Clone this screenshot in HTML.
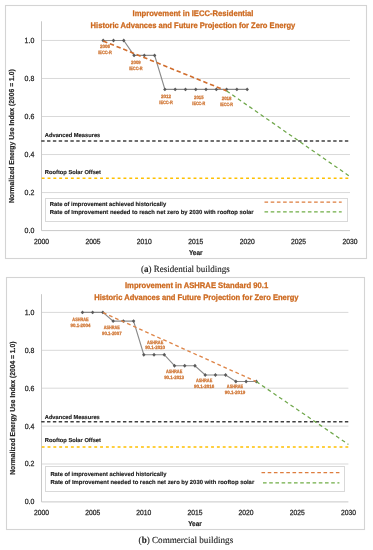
<!DOCTYPE html>
<html><head><meta charset="utf-8"><style>
html,body{margin:0;padding:0;background:#fff;width:373px;height:550px;overflow:hidden}
svg{display:block;will-change:transform;text-rendering:geometricPrecision;filter:blur(0.3px)}
</style></head><body>
<svg width="373" height="550" viewBox="0 0 373 550">
<rect width="373" height="550" fill="#fff"/>
<rect x="5.5" y="5.5" width="361" height="253" fill="none" stroke="#d4d4d4" stroke-width="1.1"/>
<line x1="41.50" y1="192.57" x2="350.00" y2="192.57" stroke="#d9d9d9" stroke-width="1"/>
<line x1="41.50" y1="154.54" x2="350.00" y2="154.54" stroke="#d9d9d9" stroke-width="1"/>
<line x1="41.50" y1="116.51" x2="350.00" y2="116.51" stroke="#d9d9d9" stroke-width="1"/>
<line x1="41.50" y1="78.48" x2="350.00" y2="78.48" stroke="#d9d9d9" stroke-width="1"/>
<line x1="41.50" y1="40.45" x2="350.00" y2="40.45" stroke="#d9d9d9" stroke-width="1"/>
<line x1="41.50" y1="230.60" x2="350.00" y2="230.60" stroke="#c8c8c8" stroke-width="1"/>
<line x1="41.50" y1="21.30" x2="41.50" y2="230.60" stroke="#c8c8c8" stroke-width="1"/>
<text x="34.30" y="233.05" font-size="7.5" text-anchor="end" fill="#262626" font-family="'Liberation Sans', sans-serif" textLength="9.70" lengthAdjust="spacingAndGlyphs" stroke="#262626" stroke-width="0.25">0.0</text>
<text x="34.30" y="195.02" font-size="7.5" text-anchor="end" fill="#262626" font-family="'Liberation Sans', sans-serif" textLength="9.70" lengthAdjust="spacingAndGlyphs" stroke="#262626" stroke-width="0.25">0.2</text>
<text x="34.30" y="156.99" font-size="7.5" text-anchor="end" fill="#262626" font-family="'Liberation Sans', sans-serif" textLength="9.70" lengthAdjust="spacingAndGlyphs" stroke="#262626" stroke-width="0.25">0.4</text>
<text x="34.30" y="118.96" font-size="7.5" text-anchor="end" fill="#262626" font-family="'Liberation Sans', sans-serif" textLength="9.70" lengthAdjust="spacingAndGlyphs" stroke="#262626" stroke-width="0.25">0.6</text>
<text x="34.30" y="80.93" font-size="7.5" text-anchor="end" fill="#262626" font-family="'Liberation Sans', sans-serif" textLength="9.70" lengthAdjust="spacingAndGlyphs" stroke="#262626" stroke-width="0.25">0.8</text>
<text x="34.30" y="42.90" font-size="7.5" text-anchor="end" fill="#262626" font-family="'Liberation Sans', sans-serif" textLength="9.70" lengthAdjust="spacingAndGlyphs" stroke="#262626" stroke-width="0.25">1.0</text>
<text x="41.50" y="243.80" font-size="7.4" text-anchor="middle" fill="#262626" font-family="'Liberation Sans', sans-serif" textLength="15.00" lengthAdjust="spacingAndGlyphs" stroke="#262626" stroke-width="0.25">2000</text>
<text x="92.92" y="243.80" font-size="7.4" text-anchor="middle" fill="#262626" font-family="'Liberation Sans', sans-serif" textLength="15.00" lengthAdjust="spacingAndGlyphs" stroke="#262626" stroke-width="0.25">2005</text>
<text x="144.33" y="243.80" font-size="7.4" text-anchor="middle" fill="#262626" font-family="'Liberation Sans', sans-serif" textLength="15.00" lengthAdjust="spacingAndGlyphs" stroke="#262626" stroke-width="0.25">2010</text>
<text x="195.75" y="243.80" font-size="7.4" text-anchor="middle" fill="#262626" font-family="'Liberation Sans', sans-serif" textLength="15.00" lengthAdjust="spacingAndGlyphs" stroke="#262626" stroke-width="0.25">2015</text>
<text x="247.17" y="243.80" font-size="7.4" text-anchor="middle" fill="#262626" font-family="'Liberation Sans', sans-serif" textLength="15.00" lengthAdjust="spacingAndGlyphs" stroke="#262626" stroke-width="0.25">2020</text>
<text x="298.58" y="243.80" font-size="7.4" text-anchor="middle" fill="#262626" font-family="'Liberation Sans', sans-serif" textLength="15.00" lengthAdjust="spacingAndGlyphs" stroke="#262626" stroke-width="0.25">2025</text>
<text x="350.00" y="243.80" font-size="7.4" text-anchor="middle" fill="#262626" font-family="'Liberation Sans', sans-serif" textLength="15.00" lengthAdjust="spacingAndGlyphs" stroke="#262626" stroke-width="0.25">2030</text>
<text x="195.70" y="254.50" font-size="7.1" text-anchor="middle" font-weight="bold" fill="#1f1f1f" font-family="'Liberation Sans', sans-serif" textLength="13.60" lengthAdjust="spacingAndGlyphs" stroke="#1f1f1f" stroke-width="0.22">Year</text>
<text x="0" y="0" font-size="7.2" font-weight="bold" fill="#262626" stroke="#262626" stroke-width="0.2" font-family="'Liberation Sans', sans-serif" text-anchor="middle" textLength="133.8" lengthAdjust="spacingAndGlyphs" transform="translate(13.60,136.20) rotate(-90)">Normalized Energy Use Index (2006 = 1.0)</text>
<text x="132.60" y="16.40" font-size="8.0" text-anchor="start" font-weight="bold" fill="#cd6a20" font-family="'Liberation Sans', sans-serif" textLength="120.80" lengthAdjust="spacingAndGlyphs" stroke="#cd6a20" stroke-width="0.28">Improvement in IECC-Residential</text>
<text x="90.60" y="27.60" font-size="8.0" text-anchor="start" font-weight="bold" fill="#cd6a20" font-family="'Liberation Sans', sans-serif" textLength="204.70" lengthAdjust="spacingAndGlyphs" stroke="#cd6a20" stroke-width="0.28">Historic Advances and Future Projection for Zero Energy</text>
<line x1="41.20" y1="140.90" x2="350.00" y2="140.90" stroke="#404040" stroke-width="1.5" stroke-dasharray="3.4 2.44"/>
<text x="44.80" y="136.60" font-size="5.75" text-anchor="start" font-weight="bold" fill="#1a1a1a" font-family="'Liberation Sans', sans-serif" textLength="55.50" lengthAdjust="spacingAndGlyphs" stroke="#1a1a1a" stroke-width="0.14">Advanced Measures</text>
<line x1="41.70" y1="178.30" x2="350.00" y2="178.30" stroke="#ffc000" stroke-width="1.4" stroke-dasharray="2.9 2.94"/>
<text x="44.80" y="174.10" font-size="5.75" text-anchor="start" font-weight="bold" fill="#1a1a1a" font-family="'Liberation Sans', sans-serif" textLength="56.20" lengthAdjust="spacingAndGlyphs" stroke="#1a1a1a" stroke-width="0.14">Rooftop Solar Offset</text>
<rect x="45.5" y="198.5" width="302" height="23" fill="#fff" stroke="#d9d9d9" stroke-width="1"/>
<text x="49.80" y="205.50" font-size="5.85" text-anchor="start" font-weight="bold" fill="#1a1a1a" font-family="'Liberation Sans', sans-serif" textLength="116.40" lengthAdjust="spacingAndGlyphs" stroke="#1a1a1a" stroke-width="0.14">Rate of improvement achieved historically</text>
<text x="49.80" y="213.50" font-size="5.85" text-anchor="start" font-weight="bold" fill="#1a1a1a" font-family="'Liberation Sans', sans-serif" textLength="203.80" lengthAdjust="spacingAndGlyphs" stroke="#1a1a1a" stroke-width="0.14">Rate of Improvement needed to reach net zero by 2030 with rooftop solar</text>
<line x1="264.50" y1="202.20" x2="341.70" y2="202.20" stroke="#dd7d3e" stroke-width="1.3" stroke-dasharray="3.6 2.6"/>
<line x1="264.50" y1="211.90" x2="341.70" y2="211.90" stroke="#70ad47" stroke-width="1.3" stroke-dasharray="3.6 2.6"/>
<path d="M103.20,40.45 L113.48,40.45 L123.77,40.45 L134.05,55.40 L144.33,55.40 L154.62,55.40 L164.90,89.40 L175.18,89.40 L185.47,89.40 L195.75,89.40 L206.03,89.40 L216.32,89.40 L226.60,89.40 L236.88,89.40 L247.17,89.40" fill="none" stroke="#8a8a8a" stroke-width="1.15"/>
<path d="M103.20,38.50 L104.95,40.45 L103.20,42.40 L101.45,40.45 Z" fill="#5a5a5a"/>
<path d="M113.48,38.50 L115.23,40.45 L113.48,42.40 L111.73,40.45 Z" fill="#5a5a5a"/>
<path d="M123.77,38.50 L125.52,40.45 L123.77,42.40 L122.02,40.45 Z" fill="#5a5a5a"/>
<path d="M134.05,53.45 L135.80,55.40 L134.05,57.35 L132.30,55.40 Z" fill="#5a5a5a"/>
<path d="M144.33,53.45 L146.08,55.40 L144.33,57.35 L142.58,55.40 Z" fill="#5a5a5a"/>
<path d="M154.62,53.45 L156.37,55.40 L154.62,57.35 L152.87,55.40 Z" fill="#5a5a5a"/>
<path d="M164.90,87.45 L166.65,89.40 L164.90,91.35 L163.15,89.40 Z" fill="#5a5a5a"/>
<path d="M175.18,87.45 L176.93,89.40 L175.18,91.35 L173.43,89.40 Z" fill="#5a5a5a"/>
<path d="M185.47,87.45 L187.22,89.40 L185.47,91.35 L183.72,89.40 Z" fill="#5a5a5a"/>
<path d="M195.75,87.45 L197.50,89.40 L195.75,91.35 L194.00,89.40 Z" fill="#5a5a5a"/>
<path d="M206.03,87.45 L207.78,89.40 L206.03,91.35 L204.28,89.40 Z" fill="#5a5a5a"/>
<path d="M216.32,87.45 L218.07,89.40 L216.32,91.35 L214.57,89.40 Z" fill="#5a5a5a"/>
<path d="M226.60,87.45 L228.35,89.40 L226.60,91.35 L224.85,89.40 Z" fill="#5a5a5a"/>
<path d="M236.88,87.45 L238.63,89.40 L236.88,91.35 L235.13,89.40 Z" fill="#5a5a5a"/>
<path d="M247.17,87.45 L248.92,89.40 L247.17,91.35 L245.42,89.40 Z" fill="#5a5a5a"/>
<line x1="103.20" y1="41.00" x2="226.60" y2="90.90" stroke="#d06d2d" stroke-width="1.6" stroke-dasharray="4.4 2.8"/>
<line x1="226.60" y1="90.90" x2="349.50" y2="176.20" stroke="#6fa74a" stroke-width="1.25" stroke-dasharray="3.8 3.1"/>
<text x="105.00" y="48.40" font-size="4.8" text-anchor="middle" font-weight="bold" fill="#d07634" font-family="'Liberation Sans', sans-serif" textLength="9.90" lengthAdjust="spacingAndGlyphs" stroke="#d07634" stroke-width="0.28">2006</text>
<text x="105.00" y="54.10" font-size="4.8" text-anchor="middle" font-weight="bold" fill="#d07634" font-family="'Liberation Sans', sans-serif" textLength="13.50" lengthAdjust="spacingAndGlyphs" stroke="#d07634" stroke-width="0.28">IECC-R</text>
<text x="135.90" y="63.90" font-size="4.8" text-anchor="middle" font-weight="bold" fill="#d07634" font-family="'Liberation Sans', sans-serif" textLength="9.60" lengthAdjust="spacingAndGlyphs" stroke="#d07634" stroke-width="0.28">2009</text>
<text x="135.90" y="69.80" font-size="4.8" text-anchor="middle" font-weight="bold" fill="#d07634" font-family="'Liberation Sans', sans-serif" textLength="13.40" lengthAdjust="spacingAndGlyphs" stroke="#d07634" stroke-width="0.28">IECC-R</text>
<text x="166.00" y="97.90" font-size="4.8" text-anchor="middle" font-weight="bold" fill="#d07634" font-family="'Liberation Sans', sans-serif" textLength="10.10" lengthAdjust="spacingAndGlyphs" stroke="#d07634" stroke-width="0.28">2012</text>
<text x="166.00" y="103.70" font-size="4.8" text-anchor="middle" font-weight="bold" fill="#d07634" font-family="'Liberation Sans', sans-serif" textLength="13.40" lengthAdjust="spacingAndGlyphs" stroke="#d07634" stroke-width="0.28">IECC-R</text>
<text x="198.80" y="98.70" font-size="4.8" text-anchor="middle" font-weight="bold" fill="#d07634" font-family="'Liberation Sans', sans-serif" textLength="9.40" lengthAdjust="spacingAndGlyphs" stroke="#d07634" stroke-width="0.28">2015</text>
<text x="198.80" y="104.60" font-size="4.8" text-anchor="middle" font-weight="bold" fill="#d07634" font-family="'Liberation Sans', sans-serif" textLength="12.90" lengthAdjust="spacingAndGlyphs" stroke="#d07634" stroke-width="0.28">IECC-R</text>
<text x="226.60" y="99.70" font-size="4.8" text-anchor="middle" font-weight="bold" fill="#d07634" font-family="'Liberation Sans', sans-serif" textLength="9.70" lengthAdjust="spacingAndGlyphs" stroke="#d07634" stroke-width="0.28">2018</text>
<text x="226.60" y="105.60" font-size="4.8" text-anchor="middle" font-weight="bold" fill="#d07634" font-family="'Liberation Sans', sans-serif" textLength="12.80" lengthAdjust="spacingAndGlyphs" stroke="#d07634" stroke-width="0.28">IECC-R</text>
<text x="141.00" y="271.70" font-size="9.4" fill="#1a1a1a" stroke="#1a1a1a" stroke-width="0.12" font-family="'Liberation Serif', serif" textLength="88.80" lengthAdjust="spacingAndGlyphs">(<tspan font-weight="bold">a</tspan>) Residential buildings</text>
<rect x="6.5" y="277.5" width="358" height="252" fill="none" stroke="#d4d4d4" stroke-width="1.1"/>
<line x1="41.50" y1="464.00" x2="348.40" y2="464.00" stroke="#d9d9d9" stroke-width="1"/>
<line x1="41.50" y1="426.10" x2="348.40" y2="426.10" stroke="#d9d9d9" stroke-width="1"/>
<line x1="41.50" y1="388.20" x2="348.40" y2="388.20" stroke="#d9d9d9" stroke-width="1"/>
<line x1="41.50" y1="350.30" x2="348.40" y2="350.30" stroke="#d9d9d9" stroke-width="1"/>
<line x1="41.50" y1="312.40" x2="348.40" y2="312.40" stroke="#d9d9d9" stroke-width="1"/>
<line x1="41.50" y1="501.90" x2="348.40" y2="501.90" stroke="#c8c8c8" stroke-width="1"/>
<line x1="41.50" y1="294.20" x2="41.50" y2="501.90" stroke="#c8c8c8" stroke-width="1"/>
<text x="34.40" y="504.35" font-size="7.5" text-anchor="end" fill="#262626" font-family="'Liberation Sans', sans-serif" textLength="9.70" lengthAdjust="spacingAndGlyphs" stroke="#262626" stroke-width="0.25">0.0</text>
<text x="34.40" y="466.45" font-size="7.5" text-anchor="end" fill="#262626" font-family="'Liberation Sans', sans-serif" textLength="9.70" lengthAdjust="spacingAndGlyphs" stroke="#262626" stroke-width="0.25">0.2</text>
<text x="34.40" y="428.55" font-size="7.5" text-anchor="end" fill="#262626" font-family="'Liberation Sans', sans-serif" textLength="9.70" lengthAdjust="spacingAndGlyphs" stroke="#262626" stroke-width="0.25">0.4</text>
<text x="34.40" y="390.65" font-size="7.5" text-anchor="end" fill="#262626" font-family="'Liberation Sans', sans-serif" textLength="9.70" lengthAdjust="spacingAndGlyphs" stroke="#262626" stroke-width="0.25">0.6</text>
<text x="34.40" y="352.75" font-size="7.5" text-anchor="end" fill="#262626" font-family="'Liberation Sans', sans-serif" textLength="9.70" lengthAdjust="spacingAndGlyphs" stroke="#262626" stroke-width="0.25">0.8</text>
<text x="34.40" y="314.85" font-size="7.5" text-anchor="end" fill="#262626" font-family="'Liberation Sans', sans-serif" textLength="9.70" lengthAdjust="spacingAndGlyphs" stroke="#262626" stroke-width="0.25">1.0</text>
<text x="41.50" y="514.70" font-size="7.4" text-anchor="middle" fill="#262626" font-family="'Liberation Sans', sans-serif" textLength="15.00" lengthAdjust="spacingAndGlyphs" stroke="#262626" stroke-width="0.25">2000</text>
<text x="92.65" y="514.70" font-size="7.4" text-anchor="middle" fill="#262626" font-family="'Liberation Sans', sans-serif" textLength="15.00" lengthAdjust="spacingAndGlyphs" stroke="#262626" stroke-width="0.25">2005</text>
<text x="143.80" y="514.70" font-size="7.4" text-anchor="middle" fill="#262626" font-family="'Liberation Sans', sans-serif" textLength="15.00" lengthAdjust="spacingAndGlyphs" stroke="#262626" stroke-width="0.25">2010</text>
<text x="194.95" y="514.70" font-size="7.4" text-anchor="middle" fill="#262626" font-family="'Liberation Sans', sans-serif" textLength="15.00" lengthAdjust="spacingAndGlyphs" stroke="#262626" stroke-width="0.25">2015</text>
<text x="246.10" y="514.70" font-size="7.4" text-anchor="middle" fill="#262626" font-family="'Liberation Sans', sans-serif" textLength="15.00" lengthAdjust="spacingAndGlyphs" stroke="#262626" stroke-width="0.25">2020</text>
<text x="297.25" y="514.70" font-size="7.4" text-anchor="middle" fill="#262626" font-family="'Liberation Sans', sans-serif" textLength="15.00" lengthAdjust="spacingAndGlyphs" stroke="#262626" stroke-width="0.25">2025</text>
<text x="348.40" y="514.70" font-size="7.4" text-anchor="middle" fill="#262626" font-family="'Liberation Sans', sans-serif" textLength="15.00" lengthAdjust="spacingAndGlyphs" stroke="#262626" stroke-width="0.25">2030</text>
<text x="195.00" y="525.50" font-size="7.1" text-anchor="middle" font-weight="bold" fill="#1f1f1f" font-family="'Liberation Sans', sans-serif" textLength="13.60" lengthAdjust="spacingAndGlyphs" stroke="#1f1f1f" stroke-width="0.22">Year</text>
<text x="0" y="0" font-size="7.2" font-weight="bold" fill="#262626" stroke="#262626" stroke-width="0.2" font-family="'Liberation Sans', sans-serif" text-anchor="middle" textLength="133.3" lengthAdjust="spacingAndGlyphs" transform="translate(14.70,408.20) rotate(-90)">Normalized Energy Use Index (2004 = 1.0)</text>
<text x="125.00" y="288.40" font-size="8.0" text-anchor="start" font-weight="bold" fill="#cd6a20" font-family="'Liberation Sans', sans-serif" textLength="143.20" lengthAdjust="spacingAndGlyphs" stroke="#cd6a20" stroke-width="0.28">Improvement in ASHRAE Standard 90.1</text>
<text x="94.20" y="299.70" font-size="8.0" text-anchor="start" font-weight="bold" fill="#cd6a20" font-family="'Liberation Sans', sans-serif" textLength="204.40" lengthAdjust="spacingAndGlyphs" stroke="#cd6a20" stroke-width="0.28">Historic Advances and Future Projection for Zero Energy</text>
<line x1="41.20" y1="421.70" x2="348.40" y2="421.70" stroke="#404040" stroke-width="1.5" stroke-dasharray="3.4 2.44"/>
<text x="44.80" y="419.00" font-size="5.75" text-anchor="start" font-weight="bold" fill="#1a1a1a" font-family="'Liberation Sans', sans-serif" textLength="54.90" lengthAdjust="spacingAndGlyphs" stroke="#1a1a1a" stroke-width="0.14">Advanced Measures</text>
<line x1="41.70" y1="447.00" x2="348.40" y2="447.00" stroke="#ffc000" stroke-width="1.4" stroke-dasharray="2.9 2.94"/>
<text x="44.80" y="441.50" font-size="5.75" text-anchor="start" font-weight="bold" fill="#1a1a1a" font-family="'Liberation Sans', sans-serif" textLength="56.20" lengthAdjust="spacingAndGlyphs" stroke="#1a1a1a" stroke-width="0.14">Rooftop Solar Offset</text>
<rect x="45.5" y="466.5" width="299" height="25" fill="#fff" stroke="#d9d9d9" stroke-width="1"/>
<text x="50.40" y="476.00" font-size="5.85" text-anchor="start" font-weight="bold" fill="#1a1a1a" font-family="'Liberation Sans', sans-serif" textLength="116.00" lengthAdjust="spacingAndGlyphs" stroke="#1a1a1a" stroke-width="0.14">Rate of improvement achieved historically</text>
<text x="50.40" y="483.80" font-size="5.85" text-anchor="start" font-weight="bold" fill="#1a1a1a" font-family="'Liberation Sans', sans-serif" textLength="203.80" lengthAdjust="spacingAndGlyphs" stroke="#1a1a1a" stroke-width="0.14">Rate of Improvement needed to reach net zero by 2030 with rooftop solar</text>
<line x1="261.50" y1="472.60" x2="339.40" y2="472.60" stroke="#dd7d3e" stroke-width="1.3" stroke-dasharray="3.6 2.6"/>
<line x1="263.00" y1="482.90" x2="339.40" y2="482.90" stroke="#70ad47" stroke-width="1.3" stroke-dasharray="3.6 2.6"/>
<path d="M82.42,312.40 L92.65,312.40 L102.88,312.40 L113.11,321.10 L123.34,321.10 L133.57,321.10 L143.80,354.70 L154.03,354.70 L164.26,354.70 L174.49,365.70 L184.72,365.70 L194.95,365.70 L205.18,375.00 L215.41,375.00 L225.64,375.00 L235.87,381.50 L246.10,381.50 L256.33,381.50" fill="none" stroke="#8a8a8a" stroke-width="1.15"/>
<path d="M82.42,310.45 L84.17,312.40 L82.42,314.35 L80.67,312.40 Z" fill="#5a5a5a"/>
<path d="M92.65,310.45 L94.40,312.40 L92.65,314.35 L90.90,312.40 Z" fill="#5a5a5a"/>
<path d="M102.88,310.45 L104.63,312.40 L102.88,314.35 L101.13,312.40 Z" fill="#5a5a5a"/>
<path d="M113.11,319.15 L114.86,321.10 L113.11,323.05 L111.36,321.10 Z" fill="#5a5a5a"/>
<path d="M123.34,319.15 L125.09,321.10 L123.34,323.05 L121.59,321.10 Z" fill="#5a5a5a"/>
<path d="M133.57,319.15 L135.32,321.10 L133.57,323.05 L131.82,321.10 Z" fill="#5a5a5a"/>
<path d="M143.80,352.75 L145.55,354.70 L143.80,356.65 L142.05,354.70 Z" fill="#5a5a5a"/>
<path d="M154.03,352.75 L155.78,354.70 L154.03,356.65 L152.28,354.70 Z" fill="#5a5a5a"/>
<path d="M164.26,352.75 L166.01,354.70 L164.26,356.65 L162.51,354.70 Z" fill="#5a5a5a"/>
<path d="M174.49,363.75 L176.24,365.70 L174.49,367.65 L172.74,365.70 Z" fill="#5a5a5a"/>
<path d="M184.72,363.75 L186.47,365.70 L184.72,367.65 L182.97,365.70 Z" fill="#5a5a5a"/>
<path d="M194.95,363.75 L196.70,365.70 L194.95,367.65 L193.20,365.70 Z" fill="#5a5a5a"/>
<path d="M205.18,373.05 L206.93,375.00 L205.18,376.95 L203.43,375.00 Z" fill="#5a5a5a"/>
<path d="M215.41,373.05 L217.16,375.00 L215.41,376.95 L213.66,375.00 Z" fill="#5a5a5a"/>
<path d="M225.64,373.05 L227.39,375.00 L225.64,376.95 L223.89,375.00 Z" fill="#5a5a5a"/>
<path d="M235.87,379.55 L237.62,381.50 L235.87,383.45 L234.12,381.50 Z" fill="#5a5a5a"/>
<path d="M246.10,379.55 L247.85,381.50 L246.10,383.45 L244.35,381.50 Z" fill="#5a5a5a"/>
<path d="M256.33,379.55 L258.08,381.50 L256.33,383.45 L254.58,381.50 Z" fill="#5a5a5a"/>
<line x1="103.10" y1="312.60" x2="256.30" y2="381.60" stroke="#de8548" stroke-width="1.35" stroke-dasharray="3.7 2.9"/>
<line x1="256.30" y1="381.60" x2="348.40" y2="444.40" stroke="#6fa74a" stroke-width="1.25" stroke-dasharray="3.8 3.1"/>
<text x="80.50" y="321.20" font-size="4.8" text-anchor="middle" font-weight="bold" fill="#d07634" font-family="'Liberation Sans', sans-serif" textLength="16.30" lengthAdjust="spacingAndGlyphs" stroke="#d07634" stroke-width="0.28">ASHRAE</text>
<text x="80.50" y="326.90" font-size="4.8" text-anchor="middle" font-weight="bold" fill="#d07634" font-family="'Liberation Sans', sans-serif" textLength="19.90" lengthAdjust="spacingAndGlyphs" stroke="#d07634" stroke-width="0.28">90.1-2004</text>
<text x="111.80" y="328.80" font-size="4.8" text-anchor="middle" font-weight="bold" fill="#d07634" font-family="'Liberation Sans', sans-serif" textLength="15.90" lengthAdjust="spacingAndGlyphs" stroke="#d07634" stroke-width="0.28">ASHRAE</text>
<text x="111.80" y="334.90" font-size="4.8" text-anchor="middle" font-weight="bold" fill="#d07634" font-family="'Liberation Sans', sans-serif" textLength="19.50" lengthAdjust="spacingAndGlyphs" stroke="#d07634" stroke-width="0.28">90.1-2007</text>
<text x="155.10" y="343.50" font-size="4.8" text-anchor="middle" font-weight="bold" fill="#d07634" font-family="'Liberation Sans', sans-serif" textLength="16.30" lengthAdjust="spacingAndGlyphs" stroke="#d07634" stroke-width="0.28">ASHRAE</text>
<text x="155.10" y="349.30" font-size="4.8" text-anchor="middle" font-weight="bold" fill="#d07634" font-family="'Liberation Sans', sans-serif" textLength="19.90" lengthAdjust="spacingAndGlyphs" stroke="#d07634" stroke-width="0.28">90.1-2010</text>
<text x="174.10" y="373.20" font-size="4.8" text-anchor="middle" font-weight="bold" fill="#d07634" font-family="'Liberation Sans', sans-serif" textLength="16.30" lengthAdjust="spacingAndGlyphs" stroke="#d07634" stroke-width="0.28">ASHRAE</text>
<text x="174.10" y="379.00" font-size="4.8" text-anchor="middle" font-weight="bold" fill="#d07634" font-family="'Liberation Sans', sans-serif" textLength="19.90" lengthAdjust="spacingAndGlyphs" stroke="#d07634" stroke-width="0.28">90.1-2013</text>
<text x="204.10" y="381.80" font-size="4.8" text-anchor="middle" font-weight="bold" fill="#d07634" font-family="'Liberation Sans', sans-serif" textLength="16.30" lengthAdjust="spacingAndGlyphs" stroke="#d07634" stroke-width="0.28">ASHRAE</text>
<text x="204.10" y="387.60" font-size="4.8" text-anchor="middle" font-weight="bold" fill="#d07634" font-family="'Liberation Sans', sans-serif" textLength="20.20" lengthAdjust="spacingAndGlyphs" stroke="#d07634" stroke-width="0.28">90.1-2016</text>
<text x="235.00" y="387.60" font-size="4.8" text-anchor="middle" font-weight="bold" fill="#d07634" font-family="'Liberation Sans', sans-serif" textLength="16.30" lengthAdjust="spacingAndGlyphs" stroke="#d07634" stroke-width="0.28">ASHRAE</text>
<text x="235.00" y="393.60" font-size="4.8" text-anchor="middle" font-weight="bold" fill="#d07634" font-family="'Liberation Sans', sans-serif" textLength="20.30" lengthAdjust="spacingAndGlyphs" stroke="#d07634" stroke-width="0.28">90.1-2019</text>
<text x="138.60" y="543.30" font-size="9.4" fill="#1a1a1a" stroke="#1a1a1a" stroke-width="0.12" font-family="'Liberation Serif', serif" textLength="94.60" lengthAdjust="spacingAndGlyphs">(<tspan font-weight="bold">b</tspan>) Commercial buildings</text>
</svg>
</body></html>
